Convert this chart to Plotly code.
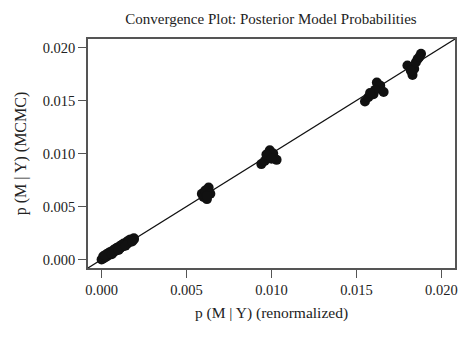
import plotly.graph_objects as go

# Renormalized posterior model probabilities (x) vs MCMC estimates (y)
renorm = [
    0.0000, 0.0001, 0.0002, 0.0001, 0.0003, 0.0004, 0.0003, 0.0005, 0.0006, 0.0005,
    0.0007, 0.0008, 0.0007, 0.0009, 0.0010, 0.0009, 0.0011, 0.0012, 0.0011, 0.0013,
    0.0014, 0.0013, 0.0015, 0.0016, 0.0015, 0.0017, 0.0018, 0.0017, 0.0019, 0.0019,
    0.0004, 0.0008, 0.0012, 0.0016, 0.0002, 0.0006, 0.0010, 0.0014, 0.0018,
    0.0059, 0.0060, 0.0062, 0.0063, 0.0063, 0.0061, 0.0064, 0.0062,
    0.0094, 0.0096, 0.0098, 0.0099, 0.0101, 0.0103, 0.0097, 0.0100,
    0.0155, 0.0157, 0.0160, 0.0162, 0.0164, 0.0166, 0.0161, 0.0158,
    0.0180, 0.0183, 0.0184, 0.0186, 0.0188, 0.0185, 0.0182, 0.0187,
]
mcmc = [
    0.0000, 0.0001, 0.0002, 0.0003, 0.0003, 0.0004, 0.0005, 0.0006, 0.0006, 0.0007,
    0.0007, 0.0008, 0.0009, 0.0010, 0.0010, 0.0011, 0.0011, 0.0012, 0.0013, 0.0013,
    0.0014, 0.0015, 0.0015, 0.0016, 0.0017, 0.0017, 0.0018, 0.0019, 0.0019, 0.0020,
    0.0006, 0.0010, 0.0014, 0.0018, 0.0004, 0.0005, 0.0009, 0.0013, 0.0017,
    0.0062, 0.0059, 0.0057, 0.0068, 0.0064, 0.0065, 0.0062, 0.0060,
    0.0090, 0.0093, 0.0096, 0.0103, 0.0100, 0.0094, 0.0099, 0.0095,
    0.0149, 0.0153, 0.0156, 0.0167, 0.0164, 0.0158, 0.0160, 0.0157,
    0.0183, 0.0174, 0.0180, 0.0189, 0.0194, 0.0186, 0.0178, 0.0191,
]
diag = [-0.0008, 0.0208]
ticks = [0.000, 0.005, 0.010, 0.015, 0.020]
tick_text = ["0.000", "0.005", "0.010", "0.015", "0.020"]

FONT = "Liberation Serif"

fig = go.Figure()
fig.add_trace(go.Scatter(x=diag, y=diag, mode="lines",
                         line=dict(color="#111111", width=1.2), hoverinfo="skip"))
fig.add_trace(go.Scatter(x=renorm, y=mcmc, mode="markers",
                         marker=dict(color="#111111", size=10, line=dict(width=0))))

axis_common = dict(
    range=diag, tickvals=ticks, ticktext=tick_text,
    showgrid=False, zeroline=False, showline=True, mirror=True,
    linecolor="#555555", linewidth=1.5,
    ticks="outside", ticklen=8, tickwidth=1.3, tickcolor="#555555",
    tickfont=dict(family=FONT, size=14.5, color="#222222"),
)
fig.update_xaxes(**axis_common,
                 title=dict(text="p (M | Y) (renormalized)",
                            font=dict(family=FONT, size=15.5, color="#222222"), standoff=10))
fig.update_yaxes(**axis_common,
                 title=dict(text="p (M | Y) (MCMC)",
                            font=dict(family=FONT, size=16, color="#222222"), standoff=12))

fig.update_layout(
    width=474, height=338,
    margin=dict(l=88, r=19, t=39, b=70),
    paper_bgcolor="white", plot_bgcolor="white",
    showlegend=False,
    title=dict(text="Convergence Plot: Posterior Model Probabilities",
               font=dict(family=FONT, size=15, color="#222222"),
               x=271 / 474, xanchor="center", y=1 - 19 / 338, yanchor="middle"),
)
fig.write_html("out.html")
